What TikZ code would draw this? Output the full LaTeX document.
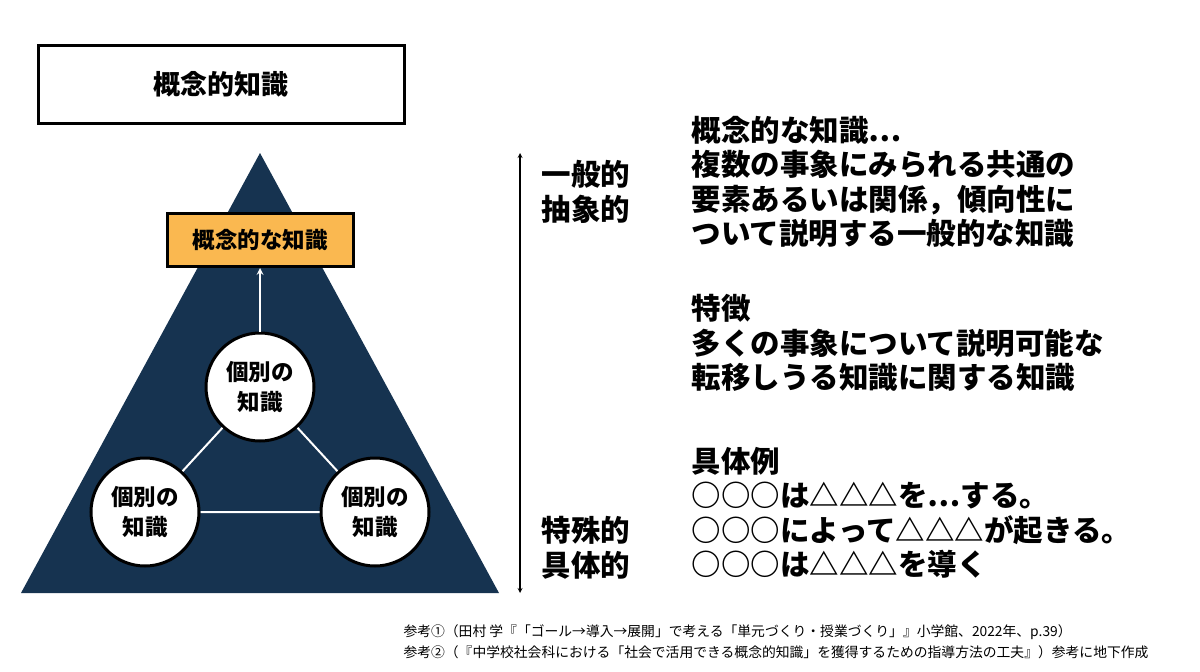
\documentclass[tikz,border=0pt]{standalone}
\usepackage{fontspec}
\setmainfont{Noto Sans CJK JP}
\begin{document}
\begin{tikzpicture}[x=1pt,y=-1pt,
  circ/.style={circle,draw=black,line width=3pt,fill=white,minimum size=108pt,inner sep=0pt,align=center,font=\fontsize{22.5}{30}\selectfont\bfseries},
  big/.style={anchor=west,font=\fontsize{29.5}{34.5}\selectfont\bfseries,align=left},
  foot/.style={anchor=west,font=\fontsize{13.8}{16}\selectfont}]
\useasboundingbox (0,0) rectangle (1200,672);
\node[draw=black,line width=3pt,minimum width=366pt,minimum height=78pt,font=\fontsize{27}{30}\selectfont\bfseries] (title) at (221,84) {概念的知識};
\fill[fill={rgb,255:red,22;green,51;blue,80}] (260,153) -- (499,593) -- (21,593) -- cycle;
\node[draw=black,line width=3pt,fill={rgb,255:red,250;green,184;blue,80},minimum width=186pt,minimum height=53pt,font=\fontsize{22.5}{26}\selectfont\bfseries] (ck) at (260,240) {概念的な知識};
\node[circ] (c1) at (260,387) {個別の\\知識};
\node[circ] (c2) at (145,512) {個別の\\知識};
\node[circ] (c3) at (375,512) {個別の\\知識};
\draw[white,line width=2pt,->,>=stealth] (c1) -- (ck);
\draw[white,line width=2pt] (c1) -- (c2) (c1) -- (c3) (c2) -- (c3);
\coordinate (at) at (520,153); \coordinate (ab) at (520,593);
\draw[line width=1.2pt,<->,>=stealth] (at) -- (ab);
\node[big,anchor=center] (g1) at (586,192) {一般的\\抽象的};
\node[big,anchor=center] (g2) at (586,548) {特殊的\\具体的};
\node[big] (t1) at (688,182) {概念的な知識…\\複数の事象にみられる共通の\\要素あるいは関係，傾向性に\\ついて説明する一般的な知識};
\node[big] (t2) at (688,343) {特徴\\多くの事象について説明可能な\\転移しうる知識に関する知識};
\node[big] (t3) at (688,513) {具体例\\○○○は△△△を…する。\\○○○によって△△△が起きる。\\○○○は△△△を導く};
\node[foot] (f1) at (400,632) {参考①（田村 学『「ゴール→導入→展開」で考える「単元づくり・授業づくり」』小学館、2022年、p.39）};
\node[foot] (f2) at (400,652) {参考②（『中学校社会科における「社会で活用できる概念的知識」を獲得するための指導方法の工夫』）参考に地下作成};
\end{tikzpicture}
\end{document}
